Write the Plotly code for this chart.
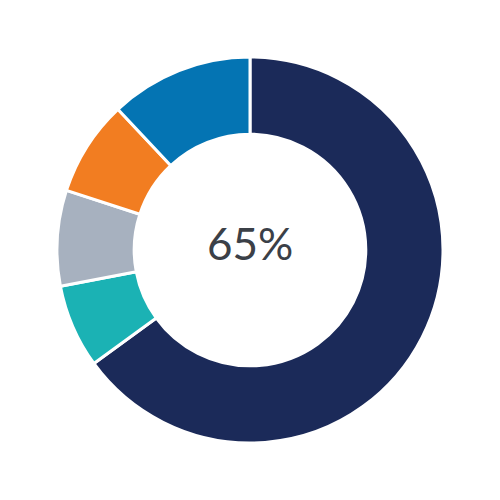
import plotly.graph_objects as go

labels = ["A", "B", "C", "D", "E"]
values = [65, 7, 8, 8, 12]
colors = ["#1b2a59", "#1bb2b4", "#a7b1bf", "#f27d21", "#0474b3"]
center_text = "65%"

fig = go.Figure(go.Pie(
    labels=labels,
    values=values,
    hole=0.6,
    sort=False,
    direction="clockwise",
    rotation=0,
    marker=dict(colors=colors, line=dict(color="white", width=3)),
    textinfo="none",
    hoverinfo="none",
    showlegend=False,
))

fig.add_annotation(
    text=center_text, x=0.5, y=0.518, xref="paper", yref="paper",
    showarrow=False, font=dict(family="Lato", size=44, color="#3b4047"),
)

# page body has an 8px margin, so shift the plot area up/left to centre the ring
fig.update_layout(
    width=500, height=500,
    margin=dict(l=49, r=65, t=49, b=65),
    paper_bgcolor="white",
    plot_bgcolor="white",
)

fig.write_html("out.html")
